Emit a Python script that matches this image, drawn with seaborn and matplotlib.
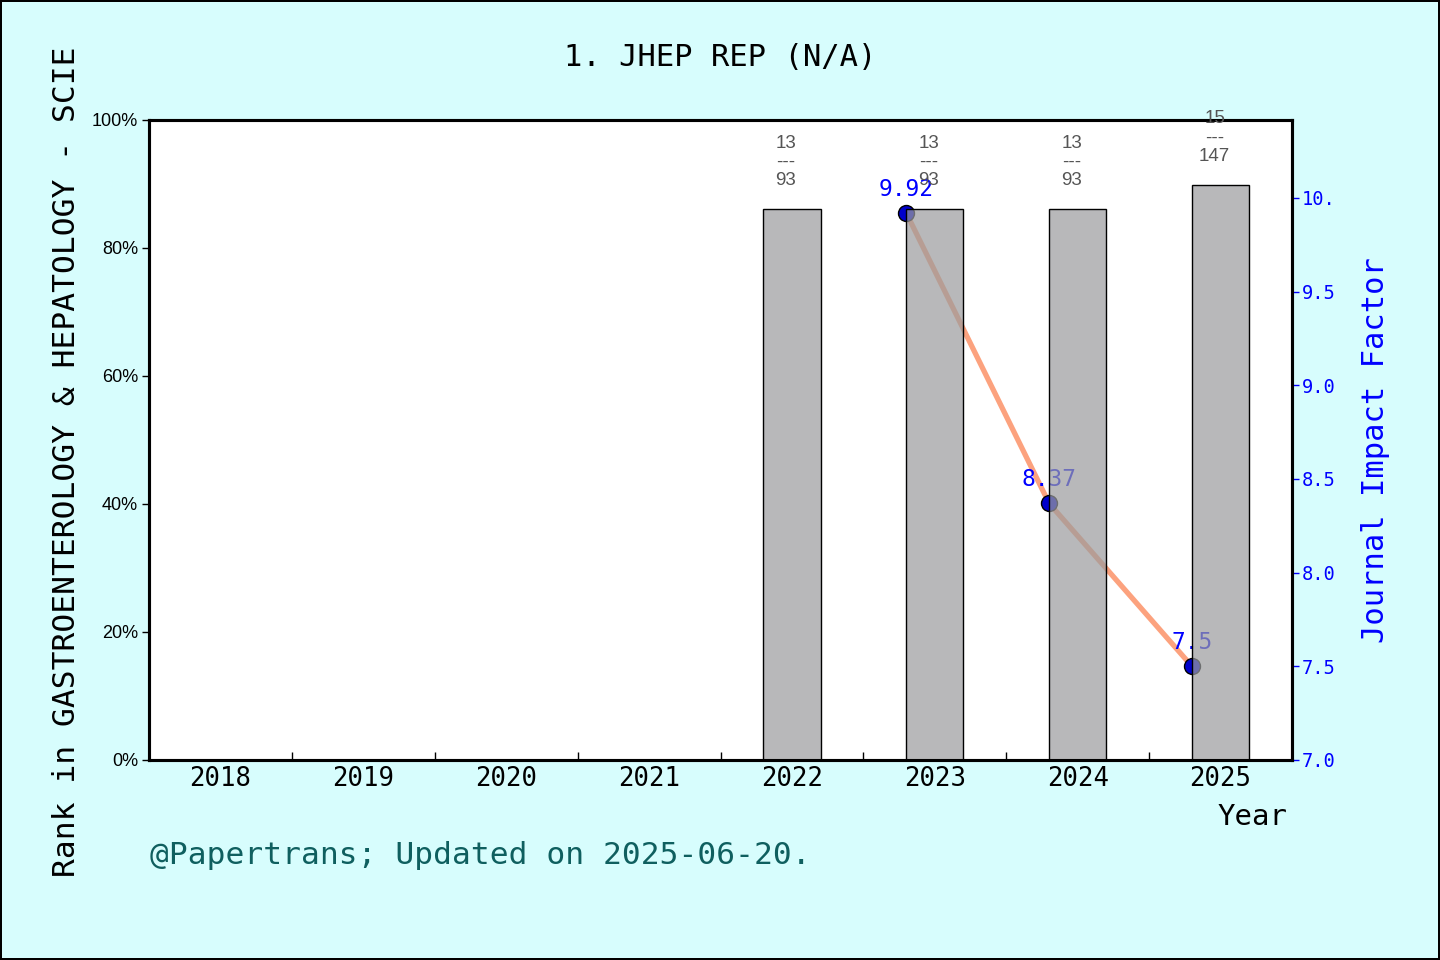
import matplotlib
matplotlib.use('Agg')
import matplotlib.pyplot as plt
import seaborn as sns
import numpy as np
import pandas as pd
from matplotlib.ticker import PercentFormatter, FixedLocator

# ---- data ----
years = ['2018', '2019', '2020', '2021', '2022', '2023', '2024', '2025']
rank = [None, None, None, None, 13, 13, 13, 15]
total = [None, None, None, None, 93, 93, 93, 147]
if_years = ['2023', '2024', '2025']
if_values = [9.92, 8.37, 7.5]
right_ticks = [7.0, 7.5, 8.0, 8.5, 9.0, 9.5, 10.0]
left_ticks = [0.0, 0.2, 0.4, 0.6, 0.8, 1.0]

title = '1. JHEP REP (N/A)'
left_label = 'Rank in GASTROENTEROLOGY & HEPATOLOGY - SCIE'
right_label = 'Journal Impact Factor'
x_label = 'Year'
footer = '@Papertrans; Updated on 2025-06-20.'

# ---- style ----
sns.set_theme(style='white')
plt.rcParams['font.family'] = ['DejaVu Sans Mono', 'DejaVu Sans']
bg = '#d7fdfd'
mono = ['DejaVu Sans Mono', 'DejaVu Sans']
sans = ['Liberation Sans', 'DejaVu Sans']

pct = [1 - r / t if r is not None else np.nan for r, t in zip(rank, total)]
df = pd.DataFrame({'year': years, 'pct': pct})

fig = plt.figure(figsize=(14.4, 9.6), dpi=100, facecolor=bg,
                 edgecolor='black', linewidth=1.5)
ax = fig.add_axes([149 / 1440, 1 - 760 / 960, (1292 - 149) / 1440, (760 - 120) / 960])
ax2 = ax.twinx()
ax.set_zorder(ax2.get_zorder() + 1)
ax.patch.set_visible(False)
ax2.patch.set_visible(True)
ax2.patch.set_facecolor('white')

bar_w = 0.4
sns.barplot(data=df, x='year', y='pct', order=years, width=bar_w,
            color='#9b9c9e', edgecolor='black', linewidth=1, ax=ax)
for p in ax.patches:
    p.set_facecolor((0.608, 0.612, 0.62, 0.71))
    p.set_edgecolor('black')

ax.set_xlim(-0.5, len(years) - 0.5)
ax.set_ylim(0, 1)
ax.set_xlabel('')
ax.set_ylabel('')
ax.yaxis.set_major_locator(FixedLocator(left_ticks))
ax.yaxis.set_major_formatter(PercentFormatter(1.0, decimals=0))
for lab in ax.get_yticklabels():
    lab.set_fontfamily(sans)
    lab.set_fontsize(13)
ax.tick_params(axis='y', direction='out', length=5, width=1, color='black', pad=3,
               labelcolor='black')
ax.tick_params(axis='x', which='major', length=0, pad=4, labelsize=18.5,
               labelcolor='black')
ax.set_xticks(np.arange(len(years)) + 0.5, minor=True)
ax.tick_params(axis='x', which='minor', direction='in', length=6, width=1, color='black',
               bottom=True)
for lab in ax.get_xticklabels():
    lab.set_fontfamily(mono)
    lab.set_color('black')

# bar annotations
for i, (r, t, v) in enumerate(zip(rank, total, pct)):
    if r is None:
        continue
    ax.annotate(f'{r}\n---\n{t}', xy=(i, v), xytext=(-6, 20), textcoords='offset pixels',
                ha='center', va='bottom', color='#555555', fontsize=13.5,
                family=sans, linespacing=1.15, annotation_clip=False)

# impact factor line
pos = [years.index(y) - bar_w / 2 for y in if_years]
sns.lineplot(x=pos, y=if_values, ax=ax2, color='#fca27e', linewidth=3.8,
             marker='o', markersize=11.5, markerfacecolor='#0000cc',
             markeredgecolor='black', markeredgewidth=1, sort=False)
for x, v in zip(pos, if_values):
    ax2.annotate(f'{v}', xy=(x, v), xytext=(0, 12), textcoords='offset pixels',
                 ha='center', va='bottom', color='blue', fontsize=16.5, family=mono)

ax2.set_ylim(7.0, 10.416)
ax2.set_yticks(right_ticks)
ax2.set_yticklabels([f'{v:.1f}'[:3] for v in right_ticks], fontsize=13.5,
                    color='blue', family=mono)
ax2.tick_params(axis='y', direction='out', length=5, width=1, color='blue', pad=2)
ax2.set_ylabel('')
ax2.grid(False)
ax.grid(False)

for a in (ax, ax2):
    for s in a.spines.values():
        s.set_visible(True)
        s.set_color('black')
        s.set_linewidth(2.2)

# texts
fig.text(0.5, 1 - 57 / 960, title, ha='center', va='center', fontsize=22,
         family=mono, color='black')
fig.text(67 / 1440, 1 - 462 / 960, left_label, rotation=90, ha='center', va='center',
         fontsize=22.5, family=mono, color='black')
fig.text(1376 / 1440, 1 - 450 / 960, right_label, rotation=90, ha='center', va='center',
         fontsize=22, family=mono, color='blue')
fig.text(1288 / 1440, 1 - 817 / 960, x_label, ha='right', va='center', fontsize=21,
         family=mono, color='black')
fig.text(150 / 1440, 1 - 855 / 960, footer, ha='left', va='center', fontsize=22.5,
         family=mono, color='#0f5f5f')

fig.savefig('out.png', dpi=100, facecolor=fig.get_facecolor(),
            edgecolor=fig.get_edgecolor())
